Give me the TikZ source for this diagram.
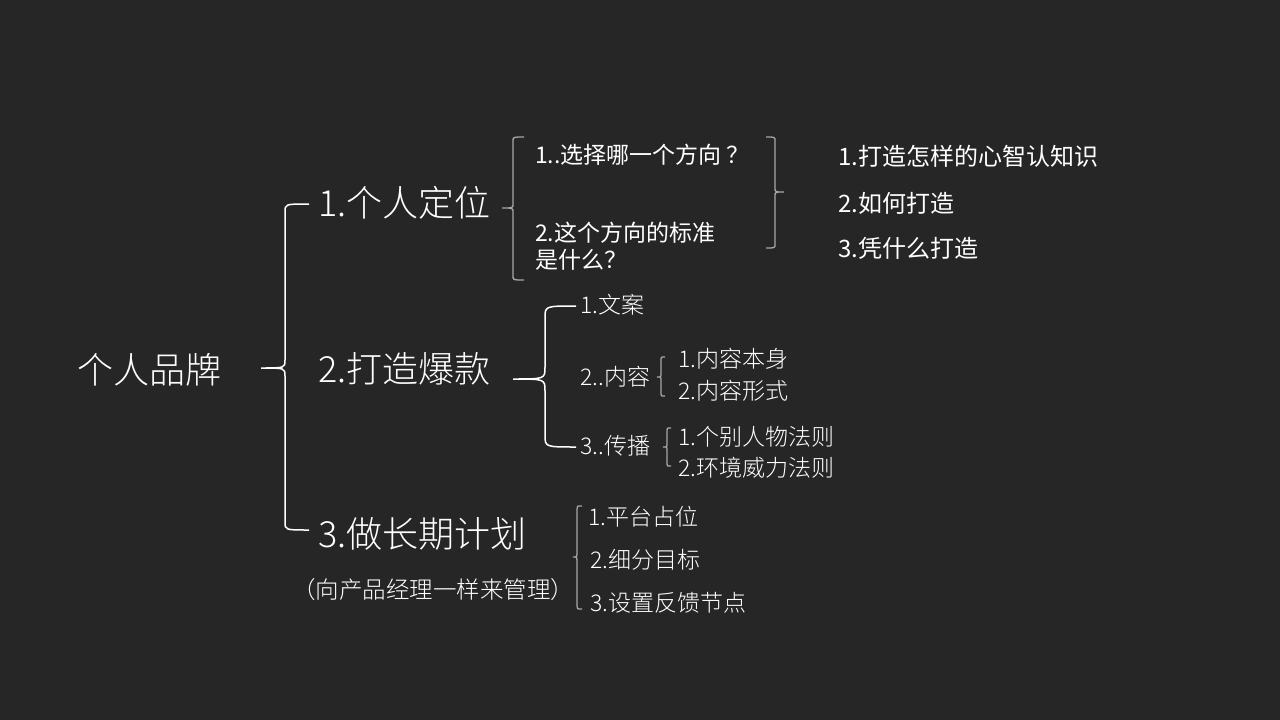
\documentclass[tikz,border=0pt]{standalone}
\usepackage{fontspec}
\setmainfont{Noto Sans CJK SC}
\newfontfamily\cjklight{Noto Sans CJK SC Light}
\definecolor{bg}{HTML}{262626}
\definecolor{brgray}{HTML}{A6A6A6}
\newcommand{\drawbrace}[8]{%
  \draw[#8] (#6,#2) .. controls (#1,#2) .. (#1,{#2+#7}) -- (#1,{#4-#7})
    .. controls (#1,#4) .. (#5,#4) .. controls (#1,#4) .. (#1,{#4+#7})
    -- (#1,{#3-#7}) .. controls (#1,#3) .. (#6,#3);}
\tikzset{
  lbl/.style={anchor=west, inner sep=0pt, text=white},
  huge/.style={lbl, font=\cjklight\fontsize{36}{43}\selectfont},
  mid/.style={lbl, font=\cjklight\fontsize{23.5}{28}\selectfont},
  sml/.style={lbl, font=\fontsize{23}{27}\selectfont, align=left},
  lsml/.style={lbl, font=\cjklight\fontsize{23}{27}\selectfont},
  rgt/.style={lbl, font=\fontsize{24}{28}\selectfont},
  wbrace/.style={white, line width=1.5pt},
  gbrace/.style={brgray, line width=1.3pt},
}
\begin{document}
\begin{tikzpicture}[x=1pt,y=-1pt]
\fill[bg] (0,0) rectangle (1280,720);
\useasboundingbox (0,0) rectangle (1280,720);

% main nodes
\node[huge] (root) at (77,370) {个人品牌};
\node[huge] (a) at (318,203) {1.个人定位};
\node[huge] (b) at (318,369) {2.打造爆款};
\node[huge] (c) at (318,534) {3.做长期计划};
\node[mid] (cnote) at (292,590) {（向产品经理一样来管理）};

% 1 children
\node[sml] (a1) at (535,155) {1..选择哪一个方向 ？};
\node[sml] (a2) at (535,246.5) {2.这个方向的标准\\是什么？};
\node[rgt] (r1) at (838,156) {1.打造怎样的心智认知识};
\node[rgt] (r2) at (838,203) {2.如何打造};
\node[rgt] (r3) at (838,248) {3.凭什么打造};

% 2 children
\node[lsml] (b1) at (580,305) {1.文案};
\node[lsml] (b2) at (580,377) {2..内容};
\node[lsml] (b3) at (580,446) {3..传播};
\node[lsml] (b21) at (678,359) {1.内容本身};
\node[lsml] (b22) at (678,391) {2.内容形式};
\node[lsml] (b31) at (678,437) {1.个别人物法则};
\node[lsml] (b32) at (678,468) {2.环境威力法则};

% 3 children
\node[lsml] (c1) at (588,517) {1.平台占位};
\node[lsml] (c2) at (590,560) {2.细分目标};
\node[lsml] (c3) at (590,603) {3.设置反馈节点};

% braces: X, top, bottom, mid, tip, hook, radius, style
\drawbrace{285}{204}{530}{368}{261}{309}{8}{wbrace}
\drawbrace{513}{137}{280}{208}{502}{524}{4}{gbrace}
\drawbrace{775}{137}{248}{192}{784}{766}{4}{gbrace}
\drawbrace{545}{306}{447}{379}{513}{576}{12}{wbrace}
\drawbrace{661}{357}{396}{377}{657}{665}{2}{gbrace}
\drawbrace{667}{428}{466}{447}{663}{671}{2}{gbrace}
\drawbrace{577}{506}{609}{557}{573}{582}{3}{gbrace}
\end{tikzpicture}
\end{document}
